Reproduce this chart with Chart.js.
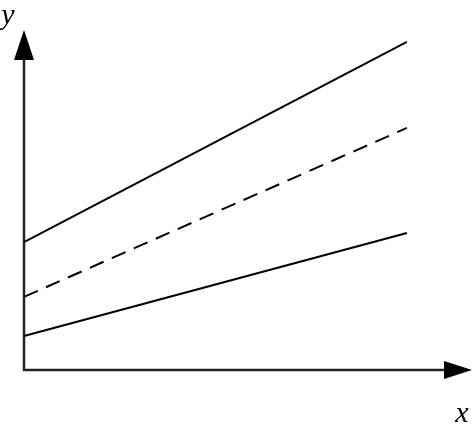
<!DOCTYPE html>
<html>
<head>
<meta charset="utf-8">
<script src="https://cdn.jsdelivr.net/npm/chart.js@4"></script>
<style>
  html, body { margin: 0; padding: 0; background: #fff; }
</style>
</head>
<body>
<canvas id="chart" width="474" height="432"></canvas>
<script>
// x positions where the three lines start and end
const xValues = [0, 10];
// upper solid, dashed middle, lower solid
const upperLine = [3.76, 9.65];
const middleLine = [2.15, 7.12];
const lowerLine = [1.0, 4.03];
const axisMaxX = 11.7;
const axisMaxY = 10;
const axisLabels = ['x', 'y'];

const toPoints = ys => xValues.map((x, i) => ({ x: x, y: ys[i] }));

// draws the two axes with arrow heads and their letters
const axesPlugin = {
  id: 'axes',
  beforeDatasetsDraw(chart) {
    const ctx = chart.ctx;
    const sx = chart.scales.x, sy = chart.scales.y;
    const x0 = sx.getPixelForValue(0), y0 = sy.getPixelForValue(0);
    const xEnd = sx.getPixelForValue(axisMaxX), yEnd = sy.getPixelForValue(axisMaxY);
    ctx.save();
    ctx.strokeStyle = '#222';
    ctx.lineWidth = 2.5;
    ctx.beginPath();
    ctx.moveTo(x0, yEnd + 20);
    ctx.lineTo(x0, y0);
    ctx.lineTo(xEnd - 20, y0);
    ctx.stroke();
    ctx.fillStyle = '#000';
    // y arrow
    ctx.beginPath();
    ctx.moveTo(x0, yEnd);
    ctx.lineTo(x0 - 10, yEnd + 30);
    ctx.lineTo(x0 + 10, yEnd + 30);
    ctx.closePath();
    ctx.fill();
    // x arrow
    ctx.beginPath();
    ctx.moveTo(xEnd, y0);
    ctx.lineTo(xEnd - 28, y0 - 9);
    ctx.lineTo(xEnd - 28, y0 + 9);
    ctx.closePath();
    ctx.fill();
    ctx.font = 'italic 30px "Liberation Serif", "DejaVu Serif", serif';
    ctx.textAlign = 'center';
    ctx.textBaseline = 'alphabetic';
    ctx.fillText(axisLabels[1], x0 - 16, yEnd - 6);
    ctx.fillText(axisLabels[0], xEnd - 10, y0 + 52);
    ctx.restore();
  }
};

const lineStyle = { borderColor: '#000', borderWidth: 2, pointRadius: 0, fill: false, clip: false };

new Chart(document.getElementById('chart'), {
  type: 'line',
  data: {
    datasets: [
      Object.assign({ label: 'upper', data: toPoints(upperLine) }, lineStyle),
      Object.assign({ label: 'middle', data: toPoints(middleLine), borderDash: [15, 9] }, lineStyle),
      Object.assign({ label: 'lower', data: toPoints(lowerLine) }, lineStyle)
    ]
  },
  options: {
    responsive: false,
    animation: false,
    layout: { padding: { left: 24, top: 30, right: 2, bottom: 62 } },
    plugins: { legend: { display: false }, tooltip: { enabled: false } },
    scales: {
      x: { type: 'linear', min: 0, max: axisMaxX, display: false },
      y: { type: 'linear', min: 0, max: axisMaxY, display: false }
    }
  },
  plugins: [axesPlugin]
});
</script>
</body>
</html>
